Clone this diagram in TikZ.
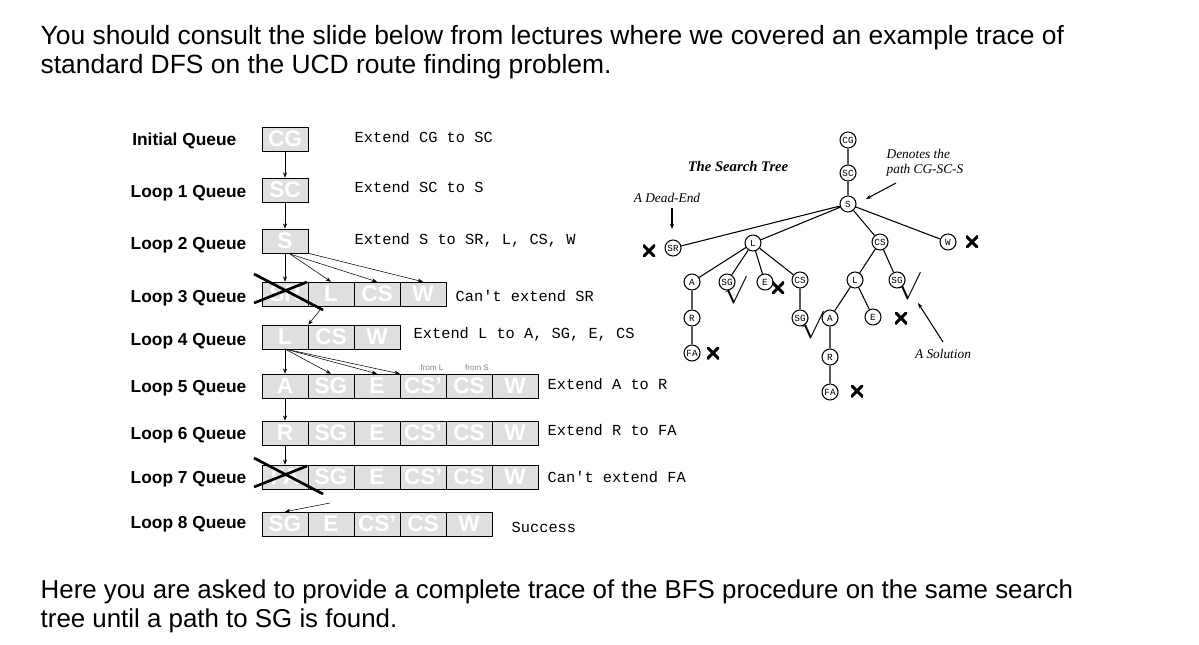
\documentclass[tikz,border=0pt]{standalone}
\usepackage{fontspec}
\setmainfont{Liberation Sans}
\newfontfamily\mono{Liberation Mono}
\newfontfamily\tserif{Liberation Serif}
\usetikzlibrary{arrows.meta}
\begin{document}
\begin{tikzpicture}[x=0.75pt,y=-0.75pt,
 lbl/.style={anchor=east,font=\bfseries\fontsize{13}{14}\selectfont},
 cell/.style={draw,fill=gray!25,minimum width=34.5pt,minimum height=18pt,inner sep=0pt,text=white,font=\bfseries\fontsize{17}{17}\selectfont},
 cmt/.style={anchor=west,font=\mono\fontsize{11.5}{12}\selectfont},
 arr/.style={-{Stealth[length=4pt]},thin},
 tn/.style={circle,draw,thick,minimum size=12pt,inner sep=0pt,font=\mono\fontsize{7}{7}\selectfont},
 te/.style={thick},
 xx/.style={minimum size=9pt,inner sep=0pt,path picture={\draw[line width=2.2pt] (path picture bounding box.south west)--(path picture bounding box.north east) (path picture bounding box.north west)--(path picture bounding box.south east);}},
 ck/.style={font=\fontsize{22}{22}\selectfont},
 ital/.style={font=\tserif\itshape\fontsize{10}{11}\selectfont,align=left},
 bx/.style={line width=2pt}]
\useasboundingbox (0,0) rectangle (1199,645);
\node[anchor=west,font=\fontsize{19.8}{22}\selectfont,align=left] (t1) at (36,52) {You should consult the slide below from lectures where we covered an example trace of\\standard DFS on the UCD route finding problem.};
\node[anchor=west,font=\fontsize{19.4}{22}\selectfont,align=left] (t2) at (36,606) {Here you are asked to provide a complete trace of the BFS procedure on the same search\\tree until a path to SG is found.};
% labels
\node[lbl] (l0) at (241,141) {Initial Queue};
\node[lbl] (l1) at (251,193) {Loop 1 Queue};
\node[lbl] (l2) at (251,245) {Loop 2 Queue};
\node[lbl] (l3) at (251,298) {Loop 3 Queue};
\node[lbl] (l4) at (251,341) {Loop 4 Queue};
\node[lbl] (l5) at (251,388) {Loop 5 Queue};
\node[lbl] (l6) at (251,435) {Loop 6 Queue};
\node[lbl] (l7) at (251,479) {Loop 7 Queue};
\node[lbl] (l8) at (251,524) {Loop 8 Queue};
% cells
\node[cell] (q0) at (285,139) {CG};
\node[cell] (q1) at (285,190) {SC};
\node[cell] (q2) at (285,241) {S};
\foreach \t [count=\i from 0] in {SR,L,CS,W}{\node[cell] (q3\i) at (285+46*\i,294) {\t};}
\foreach \t [count=\i from 0] in {L,CS,W}{\node[cell] (q4\i) at (285+46*\i,337) {\t};}
\foreach \t [count=\i from 0] in {A,SG,E,CS',CS,W}{\node[cell] (q5\i) at (285+46*\i,386) {\t};}
\foreach \t [count=\i from 0] in {R,SG,E,CS',CS,W}{\node[cell] (q6\i) at (285+46*\i,433) {\t};}
\foreach \t [count=\i from 0] in {FA,SG,E,CS',CS,W}{\node[cell] (q7\i) at (285+46*\i,477) {\t};}
\foreach \t [count=\i from 0] in {SG,E,CS',CS,W}{\node[cell] (q8\i) at (285+46*\i,524) {\t};}
% crosses
\draw[bx] (254,274) -- (323,310) (254,303) -- (307,282);
\draw[bx] (254,458) -- (323,494) (254,487) -- (307,466);
% comments
\node[cmt] (c0) at (350,137) {Extend CG to SC};
\node[cmt] (c1) at (350,187) {Extend SC to S};
\node[cmt] (c2) at (350,240) {Extend S to SR, L, CS, W};
\node[cmt] (c3) at (451,296) {Can't extend SR};
\node[cmt] (c4) at (409,334) {Extend L to A, SG, E, CS};
\node[cmt] (c5) at (543,384) {Extend A to R};
\node[cmt] (c6) at (543,430) {Extend R to FA};
\node[cmt] (c7) at (543,477) {Can't extend FA};
\node[cmt] (c8) at (507,527) {Success};
\node[font=\fontsize{6}{6}\selectfont,text=gray] (fl) at (432,368) {from L};
\node[font=\fontsize{6}{6}\selectfont,text=gray] (fs) at (477,368) {from S};
% queue arrows
\draw[arr] (q0.south) -- (q1.north);
\draw[arr] (q1.south) -- (q2.north);
\draw[arr] (q2.south) -- (q30.north);
\coordinate (s2) at (290,254);
\draw[arr] (s2) -- (q31.north);
\draw[arr] (s2) -- (q32.north);
\draw[arr] (q2.south east) -- (q33.north);
\coordinate (s3) at (320,310);
\draw[arr] (s3) -- (q40.north east);
\coordinate (s4) at (285,349);
\draw[arr] (s4) -- (q50.north);
\draw[arr] (s4) -- (q51.north);
\draw[arr] (s4) -- (q52.north);
\draw[arr] (s4) -- (q53.north west);
\draw[arr] (q50.south) -- (q60.north);
\draw[arr] (q60.south) -- (q70.north);
\coordinate (s7) at (330,503);
\draw[arr] (s7) -- (q80.north);
% tree
\node[tn] (CG) at (848,140) {CG};
\node[tn] (SC) at (848,173) {SC};
\node[tn] (S) at (848,204) {S};
\node[tn] (SR) at (673,248) {SR};
\node[tn] (L) at (753,243) {L};
\node[tn] (CS) at (880,242) {CS};
\node[tn] (W) at (948,242) {W};
\node[tn] (A) at (692,282) {A};
\node[tn] (SG1) at (727,282) {SG};
\node[tn] (E1) at (765,282) {E};
\node[tn] (CS2) at (800,280) {CS};
\node[tn] (R1) at (692,318) {R};
\node[tn] (FA1) at (692,353) {FA};
\node[tn] (SG2) at (800,318) {SG};
\node[tn] (L2) at (855,280) {L};
\node[tn] (SG3) at (897,280) {SG};
\node[tn] (A2) at (830,318) {A};
\node[tn] (E2) at (873,317) {E};
\node[tn] (R2) at (830,357) {R};
\node[tn] (FA2) at (830,392) {FA};
\draw[te] (CG)--(SC) (SC)--(S) (S)--(SR) (S)--(L) (S)--(CS) (S)--(W)
 (L)--(A) (L)--(SG1) (L)--(E1) (L)--(CS2) (A)--(R1) (R1)--(FA1) (CS2)--(SG2)
 (CS)--(L2) (CS)--(SG3) (L2)--(A2) (L2)--(E2) (A2)--(R2) (R2)--(FA2);
\node[xx] (x1) at (649,251) {};
\node[xx] (x2) at (972,242) {};
\node[xx] (x3) at (778,288) {};
\node[xx] (x4) at (713,353) {};
\node[xx] (x5) at (901,318) {};
\node[xx] (x6) at (857,391) {};
\node[ck] (k1) at (735,290) {$\surd$};
\node[ck] (k2) at (812,325) {$\surd$};
\node[ck] (k3) at (909,286) {$\surd$};
\node[font=\tserif\bfseries\itshape\fontsize{11}{12}\selectfont] (st) at (738,166) {The Search Tree};
\node[ital] (dn) at (925,163) {Denotes the\\path CG-SC-S};
\node[ital] (de) at (667,198) {A Dead-End};
\node[ital] (so) at (943,354) {A Solution};
\coordinate (da) at (896,183);
\coordinate (db) at (866,199);
\draw[arr,thick] (da) -- (db);
\coordinate (dd) at (672,208);
\coordinate (dt) at (672,229);
\draw[arr,thick] (dd) -- (dt);
\coordinate (sa) at (943,342);
\coordinate (sb) at (918,303);
\draw[arr,thick] (sa) -- (sb);
\end{tikzpicture}
\end{document}
